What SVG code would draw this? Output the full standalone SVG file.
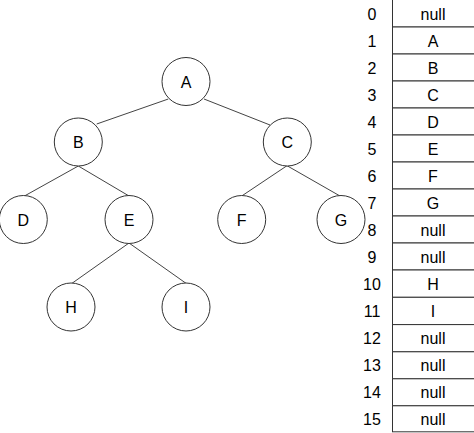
<svg xmlns="http://www.w3.org/2000/svg" width="474" height="433" viewBox="0 0 474 433">
<style>
.n{fill:#fff;stroke:#333;stroke-width:1}
.e{stroke:#444;stroke-width:1;fill:none}
.t{font-family:"Liberation Sans",Arial,sans-serif;font-size:16px;fill:#000;text-anchor:middle;dominant-baseline:central}
.ix{font-family:"Liberation Sans",Arial,sans-serif;font-size:16px;fill:#000;text-anchor:middle;dominant-baseline:central}
.cell{fill:#fff;stroke:#333;stroke-width:1}
</style>
<rect width="474" height="433" fill="#fff"/>
<g id="connectors">
<line class="e" x1="168.3" y1="99" x2="96.7" y2="124"/>
<line class="e" x1="204" y1="99" x2="270" y2="125"/>
<line class="e" x1="78.3" y1="166" x2="25" y2="195.7"/>
<line class="e" x1="78.3" y1="166" x2="128.5" y2="195.7"/>
<line class="e" x1="287" y1="165.7" x2="241.7" y2="196"/>
<line class="e" x1="287" y1="165.7" x2="340" y2="196"/>
<line class="e" x1="129" y1="243" x2="72" y2="283.3"/>
<line class="e" x1="129" y1="243" x2="186" y2="283.3"/>
</g>
<g id="node-A"><circle class="n" cx="186" cy="81.5" r="24"/><text class="t" x="186" y="82">A</text></g>
<g id="node-B"><circle class="n" cx="78.3" cy="142" r="24"/><text class="t" x="78.3" y="142.5">B</text></g>
<g id="node-C"><circle class="n" cx="287.3" cy="142" r="24"/><text class="t" x="287.3" y="142.5">C</text></g>
<g id="node-D"><circle class="n" cx="23.3" cy="219.5" r="24"/><text class="t" x="23.3" y="220">D</text></g>
<g id="node-E"><circle class="n" cx="129" cy="219.5" r="24"/><text class="t" x="129" y="220">E</text></g>
<g id="node-F"><circle class="n" cx="241.7" cy="219.5" r="24"/><text class="t" x="241.7" y="220">F</text></g>
<g id="node-G"><circle class="n" cx="341" cy="219.5" r="24"/><text class="t" x="341" y="220">G</text></g>
<g id="node-H"><circle class="n" cx="71" cy="307" r="24"/><text class="t" x="71" y="307.5">H</text></g>
<g id="node-I"><circle class="n" cx="186" cy="307" r="24"/><text class="t" x="186" y="307.5">I</text></g>
<g id="array">
<rect class="cell" x="392.5" y="-1" width="82" height="28"/>
<rect class="cell" x="392.5" y="27" width="82" height="27"/>
<rect class="cell" x="392.5" y="54" width="82" height="27"/>
<rect class="cell" x="392.5" y="81" width="82" height="27"/>
<rect class="cell" x="392.5" y="108" width="82" height="27"/>
<rect class="cell" x="392.5" y="135" width="82" height="27"/>
<rect class="cell" x="392.5" y="162" width="82" height="27"/>
<rect class="cell" x="392.5" y="189" width="82" height="27"/>
<rect class="cell" x="392.5" y="216" width="82" height="27"/>
<rect class="cell" x="392.5" y="243" width="82" height="27"/>
<rect class="cell" x="392.5" y="270" width="82" height="27.3"/>
<rect class="cell" x="392.5" y="297.3" width="82" height="27.3"/>
<rect class="cell" x="392.5" y="324.6" width="82" height="27.2"/>
<rect class="cell" x="392.5" y="351.8" width="82" height="27"/>
<rect class="cell" x="392.5" y="378.8" width="82" height="27"/>
<rect class="cell" x="392.5" y="405.8" width="82" height="26"/>
<text class="t" x="433" y="14">null</text>
<text class="t" x="433" y="41">A</text>
<text class="t" x="433" y="68">B</text>
<text class="t" x="433" y="95">C</text>
<text class="t" x="433" y="122">D</text>
<text class="t" x="433" y="149">E</text>
<text class="t" x="433" y="176">F</text>
<text class="t" x="433" y="203">G</text>
<text class="t" x="433" y="230">null</text>
<text class="t" x="433" y="257">null</text>
<text class="t" x="433" y="284">H</text>
<text class="t" x="433" y="311">I</text>
<text class="t" x="433" y="338">null</text>
<text class="t" x="433" y="365">null</text>
<text class="t" x="433" y="392">null</text>
<text class="t" x="433" y="419">null</text>
<text class="ix" x="372" y="14">0</text>
<text class="ix" x="372" y="41">1</text>
<text class="ix" x="372" y="68">2</text>
<text class="ix" x="372" y="95">3</text>
<text class="ix" x="372" y="122">4</text>
<text class="ix" x="372" y="149">5</text>
<text class="ix" x="372" y="176">6</text>
<text class="ix" x="372" y="203">7</text>
<text class="ix" x="372" y="230">8</text>
<text class="ix" x="372" y="257">9</text>
<text class="ix" x="372" y="284">10</text>
<text class="ix" x="372" y="311">11</text>
<text class="ix" x="372" y="338">12</text>
<text class="ix" x="372" y="365">13</text>
<text class="ix" x="372" y="392">14</text>
<text class="ix" x="372" y="419">15</text>
</g>
</svg>
